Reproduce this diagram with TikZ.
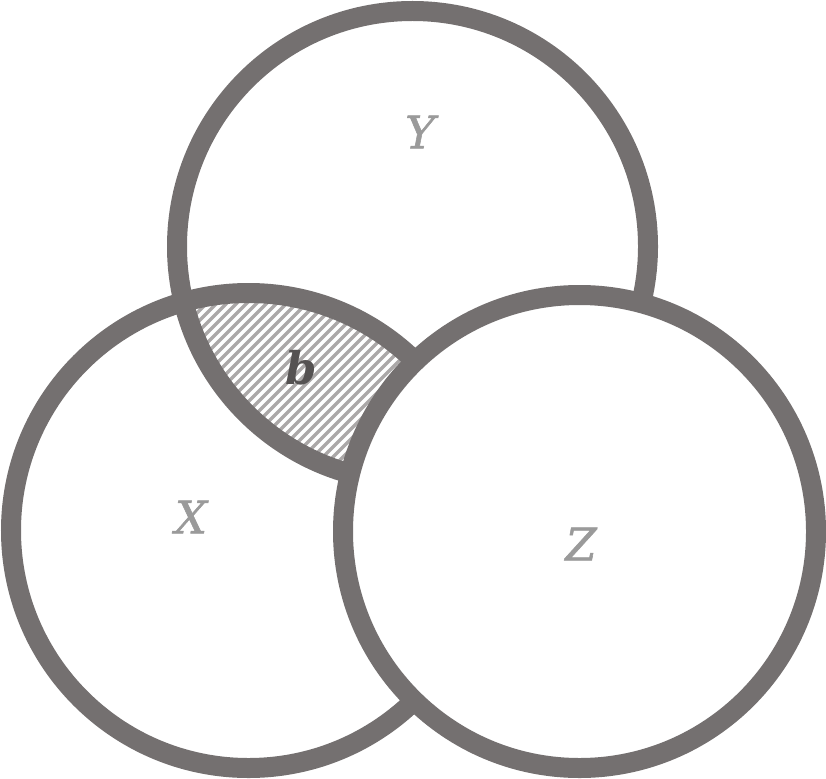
\documentclass[tikz,border=0pt]{standalone}
\usepackage{fontspec}
\newfontfamily\lblfont[FakeBold=1.3]{DejaVu Serif}
\newfontfamily\blblfont{DejaVu Serif}
\definecolor{ringc}{HTML}{747070}
\definecolor{hatchc}{HTML}{ABA8A8}
\definecolor{lblc}{HTML}{9A9A9A}
\definecolor{blblc}{HTML}{555252}
\begin{document}
\begin{tikzpicture}[x=1pt,y=-1pt,
  ringline/.style={draw=ringc,line width=20pt},
  hatchline/.style={draw=hatchc,line width=3.4pt},
  lab/.style={text=lblc,inner sep=0pt,font=\lblfont\itshape\fontsize{45}{48}\selectfont},
  blab/.style={text=blblc,inner sep=0pt,font=\blblfont\bfseries\itshape\fontsize{45}{48}\selectfont}]
\path[use as bounding box] (0,0) rectangle (826,778);
\coordinate (cy) at (412.5,246.5);
\coordinate (cx) at (248.5,530.5);
\coordinate (cz) at (579.5,531.5);
% hatched intersection of X and Y
\begin{scope}
  \clip (cx) circle[radius=237.5pt];
  \clip (cy) circle[radius=235.5pt];
  \foreach \i in {-420,-410,...,0}
    \draw[hatchline] (\i,800) -- ++(800,-800);
\end{scope}
% rings X and Y
\draw[ringline] (cx) circle[radius=237.5pt];
\draw[ringline] (cy) circle[radius=235.5pt];
% ring Z on top, white filled
\fill[white] (cz) circle[radius=236.5pt];
\draw[ringline] (cz) circle[radius=236.5pt];
% labels
\node[lab] (ly) at (420,132) {Y};
\node[lab] (lx) at (191,517) {X};
\node[lab] (lz) at (581,544) {Z};
\node[blab] (lb) at (301,368) {b};
\end{tikzpicture}
\end{document}
